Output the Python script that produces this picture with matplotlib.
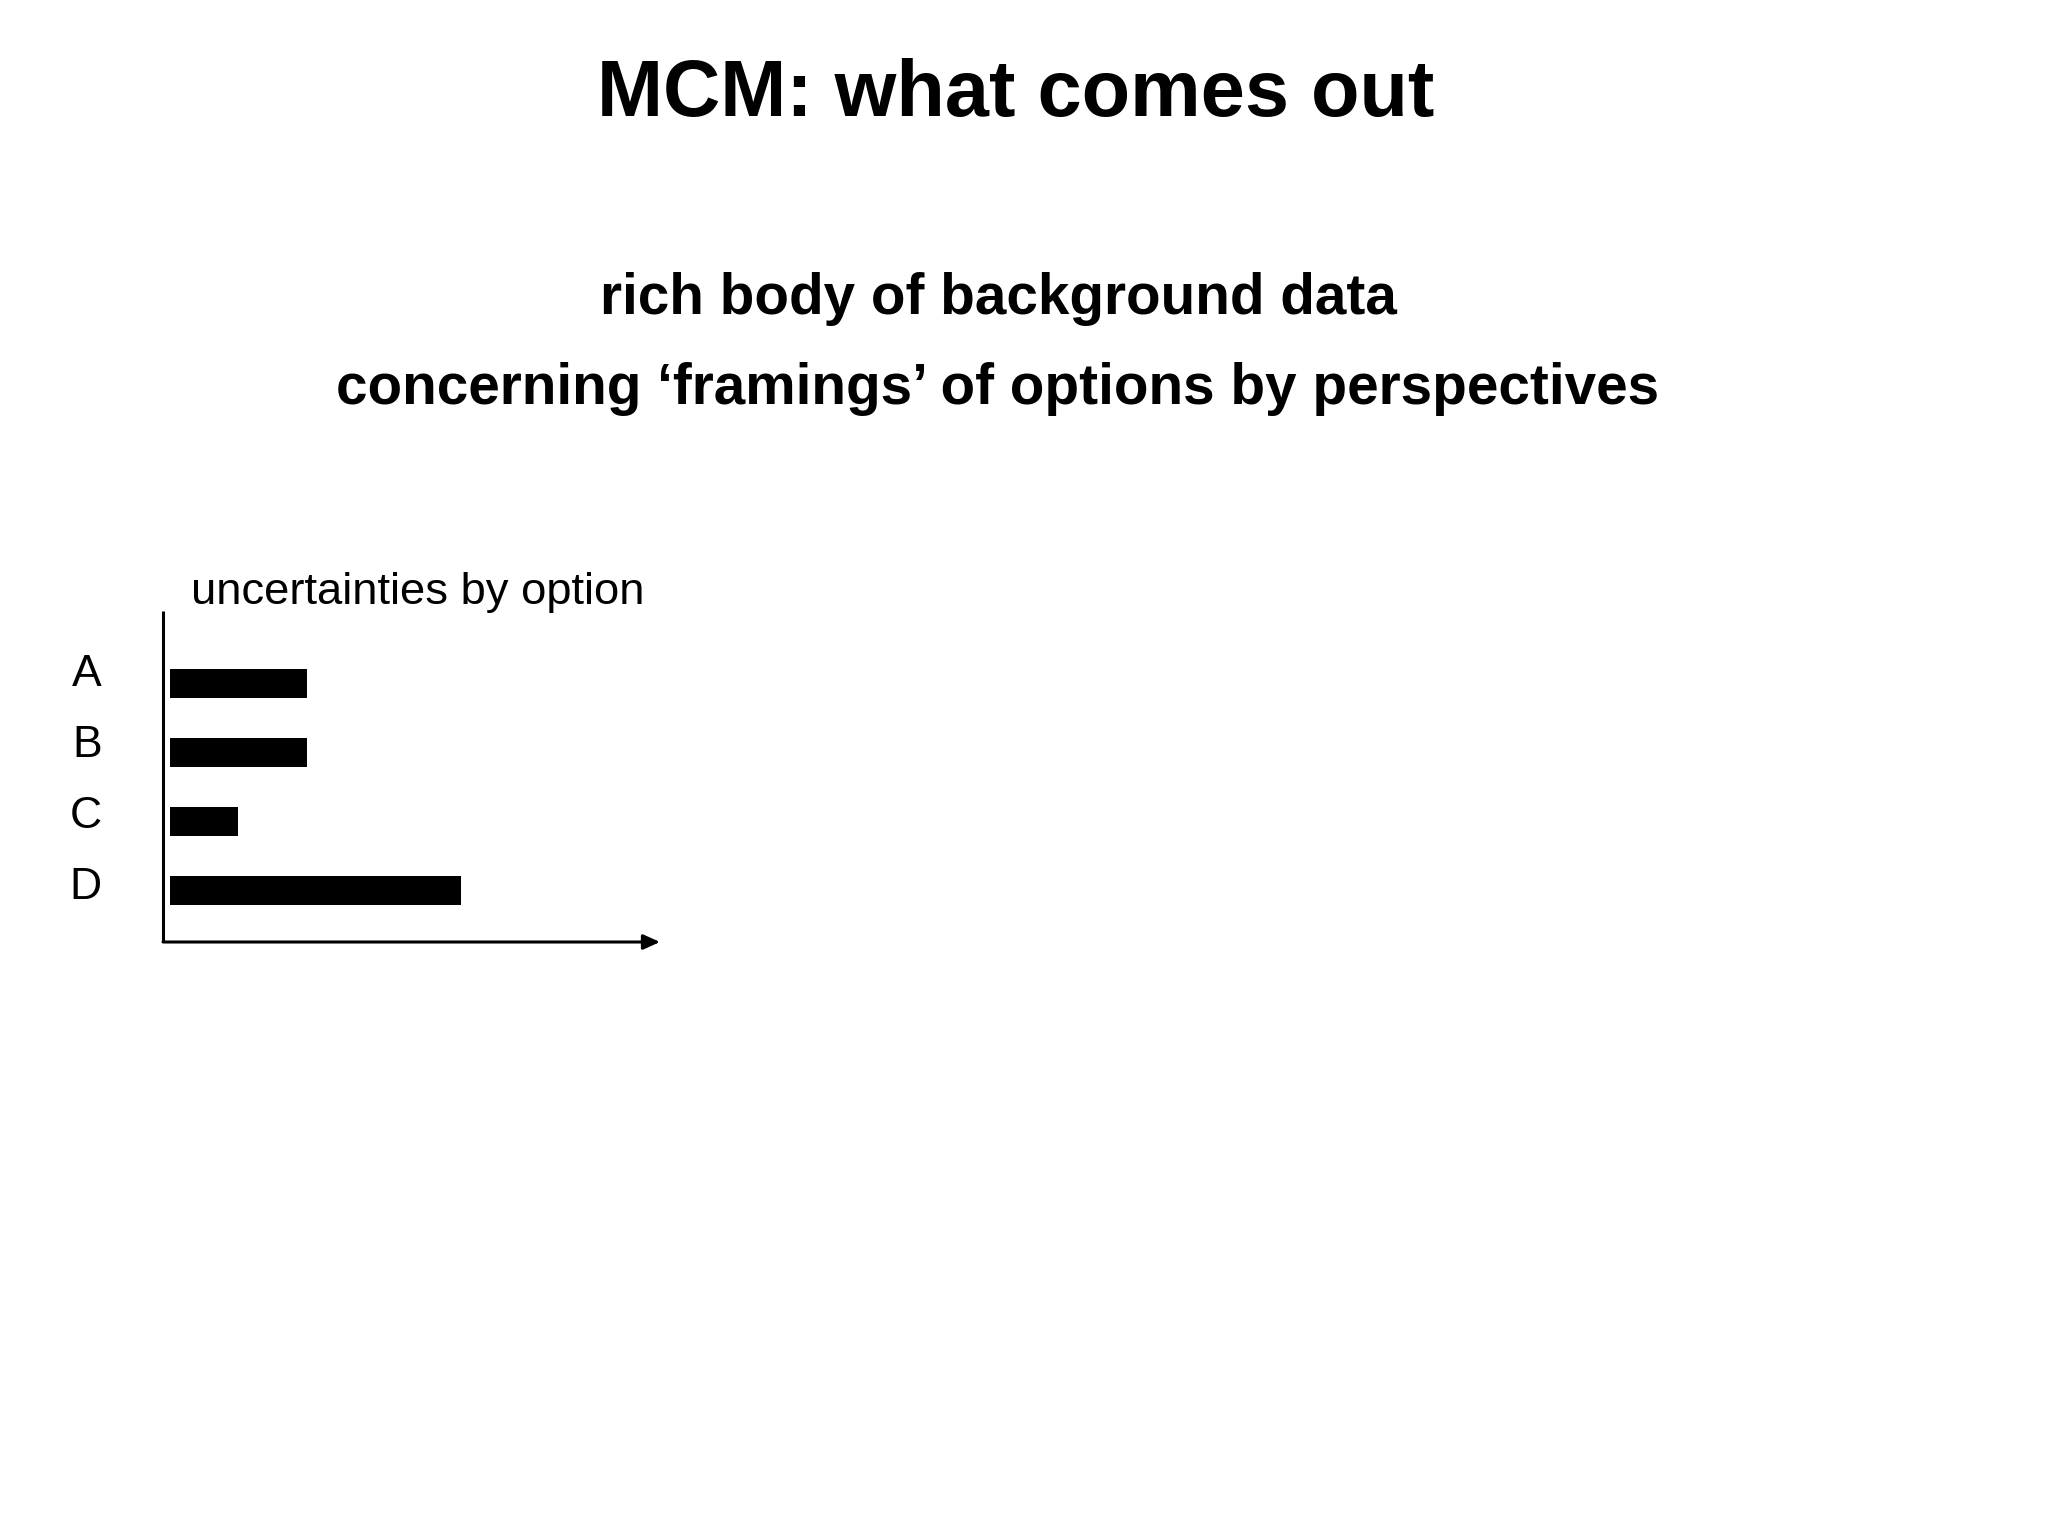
import matplotlib
matplotlib.use("Agg")
import matplotlib.pyplot as plt
import matplotlib.transforms as mtransforms

plt.rcParams['font.family'] = ['Liberation Sans', 'DejaVu Sans']

title = "MCM: what comes out"
subtitle_lines = ["rich body of background data",
                  "concerning \u2018framings\u2019 of options by perspectives"]
chart_label = "uncertainties by option"
options = ["A", "B", "C", "D"]
uncertainty = [2.0, 2.0, 1.0, 4.25]

W, H = 2048, 1536
fig = plt.figure(figsize=(W / 100, H / 100), dpi=100)
fig.patch.set_facecolor("white")

def fx(px):
    return px / W

def fy(py):
    return 1 - py / H

fig.text(fx(1016), fy(116), title, ha="center", va="baseline",
         fontsize=57.2, fontweight="bold")
fig.text(fx(998), fy(314), subtitle_lines[0], ha="center", va="baseline",
         fontsize=40.8, fontweight="bold")
fig.text(fx(998), fy(404), subtitle_lines[1], ha="center", va="baseline",
         fontsize=40.8, fontweight="bold")

# axes: x 163..660 px, y 611..942 px
ax = fig.add_axes([fx(163), fy(942), fx(660) - fx(163), (942 - 611) / H])
ax.set_facecolor("none")
pos = list(range(len(options)))
ax.barh(pos, uncertainty, height=0.42, left=0.0, color="black")
ax.set_xlim(-0.1, 7.15)
ax.set_ylim(3.75, -1.05)
ax.set_yticks(pos)
ax.set_yticklabels(options, fontsize=32)
ax.tick_params(axis="y", length=0, pad=44)
ax.set_xticks([])
for i, lab in enumerate(ax.get_yticklabels()):
    offset = mtransforms.ScaledTranslation(0, 0.133 - 0.021 * i, fig.dpi_scale_trans)
    lab.set_transform(lab.get_transform() + offset)
for s in ["top", "right", "bottom", "left"]:
    ax.spines[s].set_visible(False)

ax.plot([0, 0], [0, 1], color="black", lw=2.2, transform=ax.transAxes,
        clip_on=False, solid_capstyle="butt")
ax.annotate("", xy=(1, 0), xytext=(0, 0), xycoords="axes fraction",
            textcoords="axes fraction",
            arrowprops=dict(arrowstyle="-|>,head_length=1.0,head_width=0.45",
                            color="black", lw=2.2, shrinkA=0, shrinkB=0))

fig.text(fx(191), fy(604), chart_label, ha="left", va="baseline", fontsize=32.7)

fig.savefig("out.png", dpi=100, facecolor="white")
